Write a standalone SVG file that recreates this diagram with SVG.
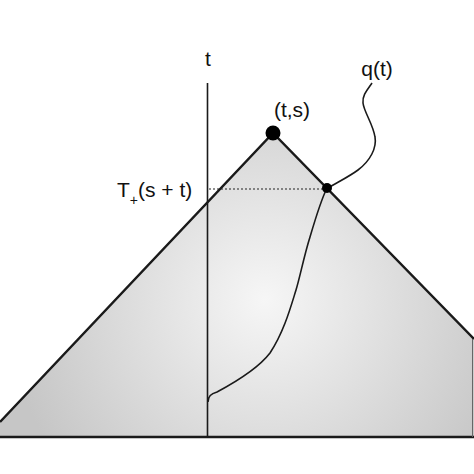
<svg xmlns="http://www.w3.org/2000/svg" width="474" height="474" viewBox="0 0 474 474">
<defs>
<radialGradient id="g" cx="265" cy="300" r="260" gradientUnits="userSpaceOnUse">
<stop offset="0" stop-color="#f6f6f6"/>
<stop offset="1" stop-color="#c6c6c6"/>
</radialGradient>
</defs>
<style>
text{font-family:"Liberation Sans",Arial,sans-serif;fill:#111}
.edge{fill:none;stroke:#1a1a1a;stroke-width:2.5;stroke-linejoin:miter}
.thin{fill:none;stroke:#1a1a1a;stroke-width:1.6}
</style>
<rect width="474" height="474" fill="#fff"/>
<g id="cone">
<polygon points="273,133 0,422 0,437 474,437 474,339" fill="url(#g)" stroke="none"/>
<polyline class="edge" points="0,422 273,133 474,339"/>
<line class="edge" x1="0" y1="437" x2="474" y2="437"/>
<line x1="472.5" y1="339" x2="472.5" y2="437" stroke="#666" stroke-width="1"/>
</g>
<g id="connectors">
<line class="thin" x1="207.5" y1="83" x2="207.5" y2="437"/>
<line x1="209" y1="189" x2="323" y2="189" stroke="#222" stroke-width="1.2" stroke-dasharray="2,2"/>
<path class="thin" d="M327,188 C322,198 315,220 310,237 C304,256 300,277 296,290 C291,306 284,332 270,353 C260,366 245,377 217,392 C211,394 208,396 208,402"/>
<path class="thin" d="M328,188 C340,181 350,176 358,170 C370,161 377,148 375,137 C373,124 364,112 363,103 C362,95 368,89 372,83"/>
</g>
<g id="apex">
<circle cx="273" cy="133" r="7.5" fill="#000"/>
<text x="292" y="117" font-size="21" text-anchor="middle">(t,s)</text>
</g>
<g id="point">
<circle cx="327" cy="188" r="5" fill="#000"/>
</g>
<g id="labels">
<text x="208" y="66" font-size="21" text-anchor="middle">t</text>
<text x="377" y="76" font-size="21" text-anchor="middle">q(t)</text>
<text x="117" y="197" font-size="21">T<tspan font-size="14" dy="8">+</tspan><tspan dy="-8">(s + t)</tspan></text>
</g>
</svg>
